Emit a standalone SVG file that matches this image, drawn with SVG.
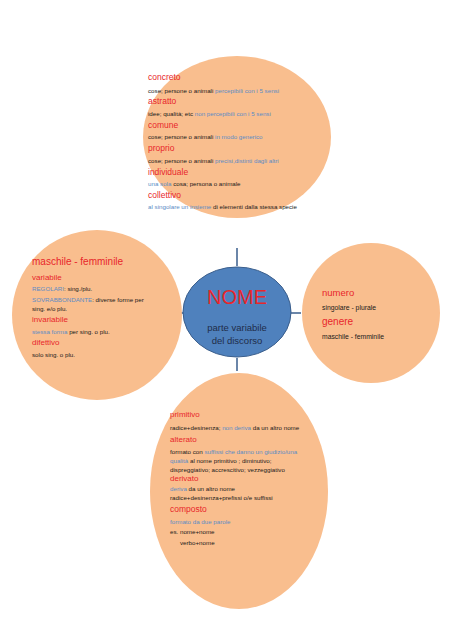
<svg xmlns="http://www.w3.org/2000/svg" width="453" height="640" viewBox="0 0 453 640">
<style>
.bub{fill:#F9BE8E;}
.h{fill:#E8262B;font-family:"Liberation Sans",Arial,sans-serif;font-size:8.5px;}
.t{fill:#1a1a1a;font-family:"Liberation Sans",Arial,sans-serif;font-size:6.2px;}
.b{fill:#5B8CC5;}
.c{stroke:#3A5E8C;stroke-width:1.5;fill:none;}
</style>
<rect width="453" height="640" fill="#ffffff"/>
<g id="connectors">
<line class="c" x1="237" y1="248" x2="237" y2="266"/>
<line class="c" x1="237" y1="358" x2="237" y2="371"/>
<line class="c" x1="173" y1="313" x2="184" y2="313"/>
<line class="c" x1="291" y1="313" x2="301" y2="313"/>
</g>
<g id="top">
<ellipse class="bub" cx="237" cy="137" rx="94" ry="81"/>
<text class="h" x="148" y="80">concreto</text>
<text class="t" x="148" y="93">cose; persone o animali  <tspan class="b">percepibili con i 5 sensi</tspan></text>
<text class="h" x="148" y="104">astratto</text>
<text class="t" x="148" y="116">idee; qualità; etc  <tspan class="b">non percepibili con i 5 sensi</tspan></text>
<text class="h" x="148" y="128">comune</text>
<text class="t" x="148" y="139">cose; persone o animali  <tspan class="b">in modo generico</tspan></text>
<text class="h" x="148" y="151">proprio</text>
<text class="t" x="148" y="163">cose; persone o animali  <tspan class="b">precisi,distinti dagli altri</tspan></text>
<text class="h" x="148" y="175">individuale</text>
<text class="t" x="148" y="186"><tspan class="b">una sola</tspan> cosa; persona o animale</text>
<text class="h" x="148" y="198">collettivo</text>
<text class="t" x="148" y="209"><tspan class="b">al singolare un insieme</tspan> di elementi dalla stessa specie</text>
</g>
<g id="left">
<ellipse class="bub" cx="97" cy="315" rx="85" ry="85"/>
<text class="h" x="32" y="265" style="font-size:10px">maschile - femminile</text>
<text class="h" x="32" y="280" style="font-size:8px">variabile</text>
<text class="t" x="32" y="291"><tspan class="b">REGOLARI</tspan>: sing./plu.</text>
<text class="t" x="32" y="302"><tspan class="b">SOVRABBONDANTE</tspan>: diverse forme per</text>
<text class="t" x="32" y="311">sing. e/o plu.</text>
<text class="h" x="32" y="322" style="font-size:8px">invariabile</text>
<text class="t" x="32" y="334"><tspan class="b">stessa forma</tspan> per sing. o plu.</text>
<text class="h" x="32" y="345" style="font-size:8px">difettivo</text>
<text class="t" x="32" y="357">solo sing. o plu.</text>
</g>
<g id="center">
<ellipse cx="237" cy="312" rx="54" ry="45" fill="#4F81BD" stroke="#3A5E8C" stroke-width="1"/>
<text x="237" y="304" text-anchor="middle" style="fill:#E8262B;font-family:'Liberation Sans',Arial,sans-serif;font-size:20px">NOME</text>
<text x="237" y="331" text-anchor="middle" style="fill:#1F2D4A;font-family:'Liberation Sans',Arial,sans-serif;font-size:9.5px">parte variabile</text>
<text x="237" y="344" text-anchor="middle" style="fill:#1F2D4A;font-family:'Liberation Sans',Arial,sans-serif;font-size:9.5px">del discorso</text>
</g>
<g id="right">
<ellipse class="bub" cx="371" cy="313" rx="69" ry="70"/>
<text class="h" x="322" y="296" style="font-size:9.5px">numero</text>
<text class="t" x="322" y="310" style="font-size:6.8px">singolare - plurale</text>
<text class="h" x="322" y="325" style="font-size:10px">genere</text>
<text class="t" x="322" y="339" style="font-size:6.8px">maschile - femminile</text>
</g>
<g id="bottom">
<ellipse class="bub" cx="239" cy="491" rx="89" ry="118"/>
<text class="h" x="170" y="417" style="font-size:8px">primitivo</text>
<text class="t" x="170" y="430">radice+desinenza; <tspan class="b">non deriva</tspan> da un altro nome</text>
<text class="h" x="170" y="442" style="font-size:8px">alterato</text>
<text class="t" x="170" y="454">formato con <tspan class="b">suffissi che danno un giudizio/una</tspan></text>
<text class="t" x="170" y="463"><tspan class="b">qualità</tspan> al nome primitivo ; diminutivo;</text>
<text class="t" x="170" y="472">dispreggiativo; accrescitivo; vezzeggiativo</text>
<text class="h" x="170" y="481" style="font-size:8px">derivato</text>
<text class="t" x="170" y="491"><tspan class="b">deriva</tspan> da un altro nome</text>
<text class="t" x="170" y="500">radice+desinenza+prefissi o/e suffissi</text>
<text class="h" x="170" y="512" style="font-size:8.5px">composto</text>
<text class="t" x="170" y="524"><tspan class="b">formato da due parole</tspan></text>
<text class="t" x="170" y="534">es. nome+nome</text>
<text class="t" x="180" y="545">verbo+nome</text>
</g>
</svg>
